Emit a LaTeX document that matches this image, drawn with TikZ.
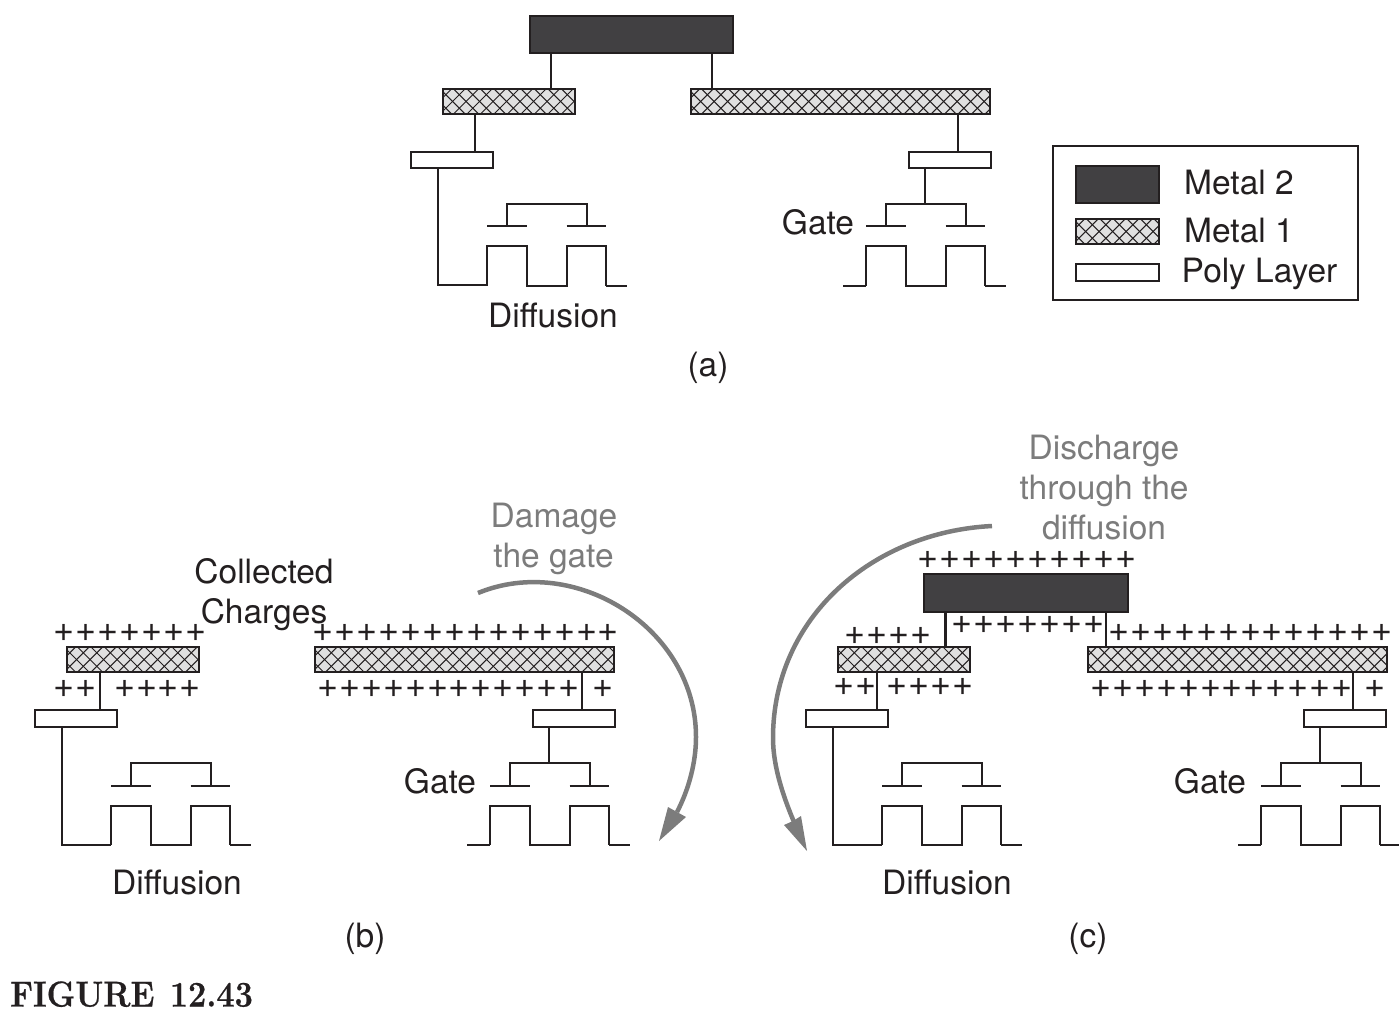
\documentclass[tikz,border=0pt]{standalone}
\usepackage{fontspec}
\setmainfont{TeX Gyre Heros}
\newfontfamily\plusfont[LetterSpace=2.5]{TeX Gyre Heros}
\newfontfamily\figfont[BoldFeatures={FakeBold=0.7}]{Latin Modern Roman}
\definecolor{ink}{HTML}{231F20}
\definecolor{mtwo}{HTML}{414042}
\definecolor{mone}{HTML}{E0E0E0}
\definecolor{soft}{HTML}{7C7C7C}
\tikzset{
  wire/.style={draw=ink,line width=2pt,line join=miter},
  layer/.style={draw=ink,line width=2pt,inner sep=0pt,outer sep=0pt},
  metaltwo/.style={layer,fill=mtwo,minimum width=203.5pt,minimum height=37.5pt},
  hatch/.style={layer,fill=mone,path picture={
    \foreach \i in {-30,-16.5,...,310}{
      \draw[ink,line width=1.05pt] ([xshift=\i pt]path picture bounding box.north west) -- ++(26pt,-26pt);
      \draw[ink,line width=1.05pt] ([xshift=\i pt]path picture bounding box.south west) -- ++(26pt,26pt);
    }}},
  metalshort/.style={hatch,minimum width=132pt,minimum height=25pt},
  metallong/.style={hatch,minimum width=299pt,minimum height=25pt},
  poly/.style={layer,fill=white,minimum width=82pt,minimum height=16.5pt},
  lbl/.style={anchor=base,text=ink,inner sep=0pt,font=\fontsize{33.5}{40}\selectfont},
  softlbl/.style={lbl,text=soft},
  plusrow/.style={anchor=base,text=ink,inner sep=0pt,font=\plusfont\fontsize{36}{40}\selectfont},
  sweep/.style={draw=soft,line width=4.5pt},
  fets/.pic={
    \draw[wire] (0,22.5) -- (0,0) -- (80,0) -- (80,22.5);
    \draw[wire] (-20,22.5) -- (20,22.5);
    \draw[wire] (59.5,22.5) -- (99,22.5);
    \draw[wire] (-20,82) -- (-20,42.5) -- (20,42.5) -- (20,82) -- (60,82) -- (60,42.5) -- (99,42.5) -- (99,82);
  },
}
\begin{document}
\begin{tikzpicture}[x=1pt,y=-1pt]
\useasboundingbox (0,0) rectangle (1399,1011);

% ---------- (a)
\node[metaltwo] (am2) at (631.5,34.5) {};
\node[metalshort] (am1l) at (509,101.5) {};
\node[metallong] (am1r) at (840.5,101.5) {};
\node[poly] (apl) at (452,160) {};
\node[poly] (apr) at (950,160) {};
\draw[wire] (am2.south -| 551,0) -- (am1l.north -| 551,0);
\draw[wire] (am2.south -| 712,0) -- (am1r.north -| 712,0);
\draw[wire] (am1l.south -| 475,0) -- (apl.north -| 475,0);
\draw[wire] (am1r.south -| 958,0) -- (apr.north -| 958,0);
\coordinate (afl) at (487,285);
\draw[wire] (apl.south -| 438,0) |- (afl);
\pic at (507,203.5) {fets};
\coordinate (aflt) at (606,285.5);
\coordinate (aflte) at (627,285.5);
\draw[wire] (aflt) -- (aflte);
\coordinate (agt) at (925,203.5);
\draw[wire] (apr.south -| 925,0) -- (agt);
\pic at (886,203.5) {fets};
\coordinate (art) at (866,285.5);
\coordinate (arts) at (843,285.5);
\draw[wire] (arts) -- (art);
\coordinate (artr) at (985,285.5);
\coordinate (artre) at (1006,285.5);
\draw[wire] (artr) -- (artre);
\node[lbl] (ladiff) at (553,327) {Diffusion};
\node[lbl] (lagate) at (818,234) {Gate};
\node[lbl] (lacap) at (708,376) {(a)};

% legend
\node[layer,minimum width=305pt,minimum height=154pt] (legend) at (1205.5,223) {};
\node[layer,fill=mtwo,minimum width=83pt,minimum height=37.5pt] (keytwo) at (1117.5,184.5) {};
\node[hatch,minimum width=83pt,minimum height=25pt] (keyone) at (1117.5,231.5) {};
\node[layer,fill=white,minimum width=83pt,minimum height=17pt] (keypoly) at (1117.5,272.5) {};
\node[lbl,anchor=base west] (ltwo) at (1184,194) {Metal 2};
\node[lbl,anchor=base west] (lone) at (1184,242) {Metal 1};
\node[lbl,anchor=base west] (lpoly) at (1181.5,282) {Poly Layer};

% ---------- (b)
\node[metalshort] (bm1l) at (133,659.5) {};
\node[metallong] (bm1r) at (464.5,659.5) {};
\node[poly] (bpl) at (76,718.5) {};
\node[poly] (bpr) at (574,718.5) {};
\draw[wire] (bm1l.south -| 100,0) -- (bpl.north -| 100,0);
\draw[wire] (bm1r.south -| 582,0) -- (bpr.north -| 582,0);
\coordinate (bfl) at (111,845);
\draw[wire] (bpl.south -| 62,0) |- (bfl);
\pic at (131,763) {fets};
\coordinate (bflt) at (230,845);
\coordinate (bflte) at (251,845);
\draw[wire] (bflt) -- (bflte);
\coordinate (bgt) at (549,763);
\draw[wire] (bpr.south -| 549,0) -- (bgt);
\pic at (510,763) {fets};
\coordinate (brts) at (467,845);
\coordinate (brt) at (490,845);
\draw[wire] (brts) -- (brt);
\coordinate (brtr) at (609,845);
\coordinate (brtre) at (630,845);
\draw[wire] (brtr) -- (brtre);
\node[plusrow] (bp1) at (130,641.5) {+++++++};
\node[plusrow] (bp2) at (75,697) {++};
\node[plusrow] (bp3) at (157.5,697) {++++};
\node[plusrow] (bp4) at (466,641) {++++++++++++++};
\node[plusrow] (bp5) at (448.5,697) {++++++++++++};
\node[plusrow] (bp6) at (603,697) {+};
\node[lbl] (lbgate) at (440,793) {Gate};
\node[lbl] (lbdiff) at (177,894) {Diffusion};
\node[lbl] (lbcap) at (365,947) {(b)};
\node[lbl] (lcoll) at (264,583) {Collected};
\node[lbl] (lchar) at (264,623) {Charges};
\node[softlbl] (ldam) at (554,527) {Damage};
\node[softlbl] (lthe) at (553.5,567) {the gate};
\coordinate (bas) at (478,593);
\coordinate (bae) at (677,812);
\draw[sweep] (bas) .. controls (575,553) and (696,628) .. (696,737) .. controls (696,762) and (689,789) .. (bae);
\fill[soft] (659,841) -- (668,807) -- (677,812) -- (686,817) -- cycle;

% ---------- (c)
\node[metaltwo] (cm2) at (1026,593) {};
\node[metalshort] (cm1l) at (904,659.5) {};
\node[metallong] (cm1r) at (1237.5,659.5) {};
\node[poly] (cpl) at (847,718.5) {};
\node[poly] (cpr) at (1345,718.5) {};
\draw[wire,line width=2.6pt] (cm2.south -| 945.5,0) -- (cm1l.north -| 945.5,0);
\draw[wire,line width=2.6pt] (cm2.south -| 1106,0) -- (cm1r.north -| 1106,0);
\draw[wire] (cm1l.south -| 877,0) -- (cpl.north -| 877,0);
\draw[wire] (cm1r.south -| 1353,0) -- (cpr.north -| 1353,0);
\coordinate (cfl) at (882,845);
\draw[wire] (cpl.south -| 833,0) |- (cfl);
\pic at (902,763) {fets};
\coordinate (cflt) at (1001,845);
\coordinate (cflte) at (1022,845);
\draw[wire] (cflt) -- (cflte);
\coordinate (cgt) at (1320,763);
\draw[wire] (cpr.south -| 1320,0) -- (cgt);
\pic at (1281,763) {fets};
\coordinate (crts) at (1238,845);
\coordinate (crt) at (1261,845);
\draw[wire] (crts) -- (crt);
\coordinate (crtr) at (1380,845);
\coordinate (crtre) at (1399,845);
\draw[wire] (crtr) -- (crtre);
\node[plusrow] (cp0) at (1027,568) {++++++++++};
\node[plusrow] (cp1) at (1028,633) {+++++++};
\node[plusrow] (cp2) at (888,644) {++++};
\node[plusrow] (cp3) at (855,695) {++};
\node[plusrow] (cp4) at (930,695) {++++};
\node[plusrow] (cp5) at (1250.5,641) {+++++++++++++};
\node[plusrow] (cp6) at (1221.5,697) {++++++++++++};
\node[plusrow] (cp7) at (1375,697) {+};
\node[lbl] (lcgate) at (1210,793) {Gate};
\node[lbl] (lcdiff) at (947,894) {Diffusion};
\node[lbl] (lccap) at (1088,947) {(c)};
\node[softlbl] (ldis) at (1104,459) {Discharge};
\node[softlbl] (lthr) at (1104,499) {through the};
\node[softlbl] (ldif) at (1104,539) {diffusion};
\coordinate (cas) at (992,526);
\coordinate (cae) at (794,822);
\draw[sweep] (cas) .. controls (872,532) and (773,618) .. (773,738) .. controls (773,766) and (783,796) .. (cae);
\fill[soft] (807,851) -- (784,825) -- (793,821) -- (801,816) -- cycle;

% ---------- caption
\node[anchor=base west,inner sep=0pt,text=ink] (figcap) at (10,1006.5) {\scalebox{0.9}[1]{\figfont\bfseries\fontsize{36}{40}\selectfont FIGURE\hspace{0.1em} 12.43}};
\end{tikzpicture}
\end{document}
